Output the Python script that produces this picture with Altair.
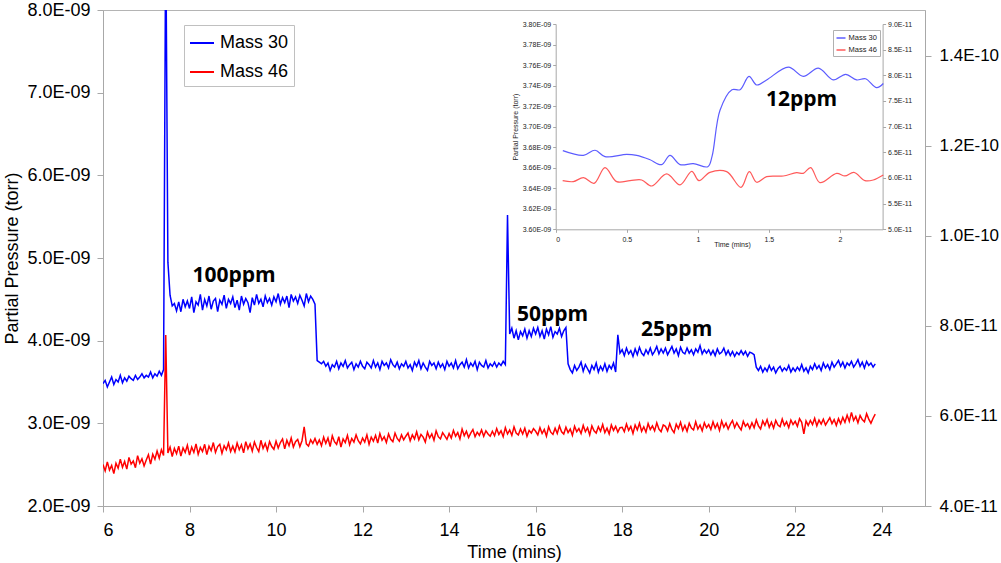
import altair as alt
import pandas as pd

# ---------------- Main chart data ----------------
# Mass 30 partial pressure, units of 1E-09 torr, one value every 0.05 min starting at each minute
m30_06 = [3.48,3.52,3.44,3.50,3.56,3.47,3.53,3.50,3.58,3.49,3.55,3.51,3.57,3.54,3.52,3.58,3.53,3.56,3.60,3.55]
m30_07 = [3.58,3.56,3.62,3.55,3.60,3.57,3.63,3.58,3.65,9.00,4.95,4.55,4.42,4.45,4.36,4.47,4.35,4.50,4.41,4.48]
m30_08 = [4.39,4.53,4.34,4.47,4.43,4.56,4.37,4.50,4.42,4.54,4.38,4.48,4.51,4.35,4.49,4.44,4.55,4.39,4.50,4.45]
m30_09 = [4.53,4.40,4.49,4.37,4.54,4.44,4.51,4.46,4.34,4.52,4.43,4.56,4.45,4.50,4.41,4.54,4.46,4.51,4.43,4.53]
m30_10 = [4.47,4.57,4.44,4.52,4.46,4.54,4.40,4.56,4.48,4.53,4.45,4.55,4.49,4.42,4.57,4.47,4.54,4.50,4.44,3.76]
m30_11 = [3.74,3.72,3.75,3.69,3.73,3.64,3.71,3.68,3.75,3.66,3.73,3.69,3.76,3.67,3.71,3.74,3.65,3.72,3.68,3.75]
m30_12 = [3.69,3.66,3.74,3.71,3.67,3.76,3.68,3.73,3.65,3.75,3.70,3.73,3.67,3.77,3.71,3.68,3.74,3.66,3.72,3.69]
m30_13 = [3.75,3.67,3.71,3.64,3.74,3.69,3.76,3.66,3.73,3.68,3.64,3.75,3.70,3.73,3.66,3.74,3.68,3.72,3.65,3.75]
m30_14 = [3.69,3.73,3.67,3.76,3.66,3.71,3.74,3.68,3.77,3.67,3.73,3.69,3.75,3.65,3.74,3.70,3.68,3.76,3.67,3.72]
m30_15 = [3.69,3.74,3.68,3.73,3.70,3.75,3.71,5.52,4.08,4.15,4.03,4.12,4.01,4.11,4.06,4.14,4.03,4.12,4.05,4.15]
m30_16 = [4.08,4.16,4.05,4.12,4.02,4.14,4.07,4.17,4.04,4.11,4.08,4.15,4.05,4.12,4.16,3.72,3.65,3.61,3.70,3.64]
m30_17 = [3.68,3.74,3.63,3.71,3.66,3.61,3.70,3.65,3.73,3.62,3.69,3.64,3.72,3.63,3.70,3.66,3.73,3.62,4.07,3.85]
m30_18 = [3.89,3.82,3.91,3.84,3.88,3.81,3.90,3.83,3.92,3.85,3.82,3.89,3.84,3.91,3.83,3.87,3.93,3.84,3.90,3.85]
m30_19 = [3.91,3.83,3.88,3.93,3.85,3.90,3.82,3.92,3.86,3.84,3.91,3.85,3.89,3.83,3.90,3.86,3.94,3.84,3.89,3.85]
m30_20 = [3.89,3.83,3.88,3.82,3.90,3.84,3.86,3.91,3.83,3.88,3.82,3.87,3.81,3.86,3.83,3.88,3.83,3.87,3.81,3.86]
m30_21 = [3.85,3.83,3.68,3.64,3.69,3.62,3.67,3.63,3.70,3.64,3.68,3.61,3.66,3.69,3.63,3.67,3.64,3.70,3.62,3.67]
m30_22 = [3.63,3.68,3.64,3.71,3.63,3.67,3.61,3.69,3.65,3.72,3.66,3.70,3.64,3.73,3.67,3.71,3.65,3.74,3.68,3.72]
m30_23 = [3.76,3.69,3.74,3.67,3.73,3.70,3.75,3.68,3.72,3.77,3.69,3.74,3.67,3.75,3.70,3.73,3.68,3.72]

# Mass 46 partial pressure, units of 1E-11 torr (right axis), same sampling
m46_06 = [4.92,4.78,4.98,4.80,4.90,4.72,4.95,4.84,5.04,4.86,4.99,4.82,5.08,4.93,5.00,4.85,5.12,4.95,5.05,4.89]
m46_07 = [5.02,5.14,4.93,5.15,5.04,5.22,5.06,5.25,5.12,7.80,5.18,5.31,5.10,5.28,5.16,5.33,5.11,5.29,5.19,5.35]
m46_08 = [5.13,5.31,5.19,5.38,5.15,5.30,5.21,5.37,5.14,5.33,5.23,5.41,5.19,5.32,5.37,5.17,5.34,5.25,5.40,5.21]
m46_09 = [5.33,5.20,5.40,5.25,5.36,5.18,5.43,5.27,5.38,5.22,5.42,5.30,5.21,5.46,5.28,5.39,5.24,5.43,5.32,5.26]
m46_10 = [5.44,5.29,5.41,5.49,5.27,5.46,5.34,5.51,5.31,5.43,5.48,5.32,5.45,5.76,5.38,5.33,5.47,5.39,5.50,5.37]
m46_11 = [5.47,5.34,5.53,5.39,5.51,5.32,5.56,5.43,5.37,5.54,5.31,5.49,5.41,5.57,5.36,5.50,5.42,5.58,5.45,5.38]
m46_12 = [5.51,5.42,5.58,5.37,5.53,5.44,5.57,5.40,5.61,5.46,5.54,5.41,5.60,5.48,5.43,5.62,5.50,5.44,5.58,5.47]
m46_13 = [5.55,5.62,5.45,5.58,5.49,5.65,5.47,5.59,5.53,5.42,5.64,5.51,5.60,5.46,5.67,5.54,5.49,5.63,5.56,5.48]
m46_14 = [5.61,5.51,5.68,5.55,5.63,5.49,5.71,5.56,5.66,5.52,5.62,5.70,5.54,5.64,5.57,5.69,5.55,5.67,5.60,5.55]
m46_15 = [5.66,5.56,5.72,5.59,5.67,5.54,5.74,5.60,5.69,5.57,5.76,5.62,5.58,5.71,5.60,5.73,5.55,5.68,5.62,5.72]
m46_16 = [5.66,5.58,5.74,5.61,5.70,5.55,5.76,5.64,5.59,5.73,5.61,5.78,5.65,5.60,5.75,5.63,5.71,5.57,5.77,5.65]
m46_17 = [5.72,5.61,5.79,5.65,5.74,5.58,5.78,5.67,5.62,5.76,5.66,5.81,5.63,5.73,5.60,5.80,5.68,5.77,5.64,5.74]
m46_18 = [5.75,5.65,5.82,5.68,5.77,5.61,5.80,5.69,5.84,5.66,5.76,5.64,5.83,5.70,5.78,5.67,5.85,5.71,5.65,5.80]
m46_19 = [5.77,5.67,5.83,5.70,5.63,5.82,5.72,5.86,5.68,5.79,5.66,5.84,5.73,5.69,5.87,5.71,5.80,5.67,5.85,5.74]
m46_20 = [5.81,5.70,5.87,5.73,5.83,5.68,5.89,5.75,5.84,5.71,5.82,5.90,5.74,5.85,5.76,5.69,5.88,5.77,5.83,5.72]
m46_21 = [5.85,5.74,5.91,5.78,5.71,5.89,5.79,5.92,5.75,5.86,5.73,5.90,5.80,5.76,5.93,5.79,5.87,5.74,5.91,5.81]
m46_22 = [5.88,5.77,5.94,5.86,5.60,5.89,5.79,5.90,5.81,5.95,5.78,5.91,5.82,5.93,5.80,5.88,5.96,5.83,5.92,5.79]
m46_23 = [5.94,5.83,5.97,5.86,6.02,5.88,6.08,5.90,5.99,5.85,6.01,5.92,5.87,6.05,5.93,5.84,5.95,6.04]

m30_chunks = [(6, m30_06), (7, m30_07), (8, m30_08), (9, m30_09), (10, m30_10), (11, m30_11),
              (12, m30_12), (13, m30_13), (14, m30_14), (15, m30_15), (16, m30_16), (17, m30_17),
              (18, m30_18), (19, m30_19), (20, m30_20), (21, m30_21), (22, m30_22), (23, m30_23)]
m46_chunks = [(6, m46_06), (7, m46_07), (8, m46_08), (9, m46_09), (10, m46_10), (11, m46_11),
              (12, m46_12), (13, m46_13), (14, m46_14), (15, m46_15), (16, m46_16), (17, m46_17),
              (18, m46_18), (19, m46_19), (20, m46_20), (21, m46_21), (22, m46_22), (23, m46_23)]

# Annotations (main chart)
ann_labels = ["100ppm", "50ppm", "25ppm"]
ann_time = [9.03, 16.39, 19.26]
ann_press = [4.78e-9, 4.31e-9, 4.13e-9]

# ---------------- Inset data ----------------
in30_time = [0.05, 0.195, 0.277, 0.347, 0.50, 0.57, 0.66, 0.745, 0.804, 0.875, 0.968, 1.07, 1.10,
             1.156, 1.24, 1.297, 1.36, 1.414, 1.484, 1.637, 1.742, 1.848, 1.953, 2.04, 2.117, 2.18, 2.258, 2.305]
in30_press = [3.6766, 3.672, 3.677, 3.6708, 3.673, 3.672, 3.668, 3.663, 3.672, 3.663, 3.664, 3.661, 3.671,
              3.716, 3.736, 3.736, 3.749, 3.7406, 3.7455, 3.758, 3.749, 3.757, 3.7455, 3.751, 3.7455, 3.7467, 3.738, 3.742]
in46_time = [0.049, 0.124, 0.195, 0.270, 0.347, 0.429, 0.523, 0.605, 0.675, 0.781, 0.875, 0.957, 1.008, 1.085,
             1.203, 1.304, 1.362, 1.414, 1.484, 1.601, 1.695, 1.742, 1.794, 1.859, 1.977, 2.035, 2.098, 2.176, 2.234, 2.305]
in46_press = [5.948, 5.929, 6.006, 5.896, 6.201, 5.929, 5.948, 5.961, 5.844, 6.078, 5.864, 6.130, 5.948, 6.110,
              6.123, 5.818, 6.123, 5.916, 6.026, 6.039, 6.104, 6.091, 6.201, 5.909, 6.091, 6.039, 6.110, 5.948, 5.961, 6.058]
inset_label = ["12ppm"]
inset_label_time = [1.73]
inset_label_press = [3.726e-9]

series_names = ["Mass 30", "Mass 46"]

# ---------------- Build tables ----------------
def build(chunks, unit, name):
    rows = []
    for minute, vals in chunks:
        for k, v in enumerate(vals):
            rows.append({"t": round(minute + 0.05 * k, 2), "p": v * unit, "series": name})
    return pd.DataFrame(rows)

df30 = build(m30_chunks, 1e-9, "Mass 30")
df46 = build(m46_chunks, 1e-11, "Mass 46")
df_ann = pd.DataFrame({"t": ann_time, "p": ann_press, "label": ann_labels})
di30 = pd.DataFrame({"t": in30_time, "p": [v * 1e-9 for v in in30_press], "series": "Mass 30"})
di46 = pd.DataFrame({"t": in46_time, "p": [v * 1e-11 for v in in46_press], "series": "Mass 46"})
di_ann = pd.DataFrame({"t": inset_label_time, "p": inset_label_press, "label": inset_label})

FONT = "Liberation Sans"
W, H = 822, 496
FS = 18

# ---------------- Main chart ----------------
x_main = alt.X("t:Q",
               scale=alt.Scale(domain=[6, 25], nice=False, zero=False),
               axis=alt.Axis(orient="bottom", values=[6, 8, 10, 12, 14, 16, 18, 20, 22, 24],
                             title="Time (mins)", labelFontSize=FS, titleFontSize=FS,
                             tickSize=6, labelPadding=9, titlePadding=4))

y_left_scale = alt.Scale(domain=[2e-9, 8e-9], nice=False, zero=False)

blue = alt.Chart(df30).mark_line(strokeWidth=1.5, clip=True).encode(
    x=x_main,
    y=alt.Y("p:Q", scale=y_left_scale,
            axis=alt.Axis(orient="left", values=[2e-9, 3e-9, 4e-9, 5e-9, 6e-9, 7e-9, 8e-9],
                          labelExpr="format(datum.value*1e9, '.1f') + 'E-09'",
                          title="Partial Pressure (torr)", labelFontSize=FS, titleFontSize=FS,
                          tickSize=6, labelPadding=7, titlePadding=5)),
    color=alt.Color("series:N",
                    scale=alt.Scale(domain=series_names, range=["#0000ff", "#ff0000"]),
                    legend=alt.Legend(orient="none", legendX=81, legendY=15, title=None,
                                      strokeColor="#c0c0c0", fillColor="#ffffff", padding=5,
                                      labelFont=FONT, labelFontSize=FS, labelColor="#000000",
                                      symbolType="stroke", symbolSize=576, symbolStrokeWidth=2,
                                      labelOffset=5, rowPadding=7, cornerRadius=0)),
)

red = alt.Chart(df46).mark_line(strokeWidth=1.5, clip=True).encode(
    x=x_main,
    y=alt.Y("p:Q", scale=alt.Scale(domain=[4e-11, 1.502e-10], nice=False, zero=False),
            axis=alt.Axis(orient="right", values=[4e-11, 6e-11, 8e-11, 1e-10, 1.2e-10, 1.4e-10],
                          labelExpr="datum.value < 9.9e-11 ? format(datum.value*1e11, '.1f') + 'E-11' : format(datum.value*1e10, '.1f') + 'E-10'",
                          title=None, labelFontSize=17, tickSize=6, labelPadding=8)),
    color=alt.Color("series:N"),
)

ann = alt.Chart(df_ann).mark_text(font="Open Sans", fontWeight="bold", fontSize=21,
                                  color="#000000", align="center", baseline="middle").encode(
    x=x_main,
    y=alt.Y("p:Q", scale=y_left_scale, axis=None),
    text="label:N",
)

main = alt.layer(blue, red, ann).resolve_scale(y="independent")

# ---------------- Inset ----------------
IX0, IX1 = 452.7, 779.6
IY0, IY1 = 219.3, 14.0

x_in = alt.X("t:Q",
             scale=alt.Scale(domain=[0, 2.3], range=[IX0, IX1], nice=False, zero=False),
             axis=alt.Axis(orient="bottom", offset=-(H - IY0), values=[0, 0.5, 1, 1.5, 2], format="~g",
                           title="Time (mins)", labelFontSize=7, titleFontSize=7, tickSize=3,
                           labelPadding=3, labelColor="#222222", titleColor="#222222",
                           titleX=629, titleY=11, titleBaseline="top",
                           domainColor="#a8a8a8", tickColor="#a8a8a8"))

y_in_scale = alt.Scale(domain=[3.6e-9, 3.8e-9], range=[IY0, IY1], nice=False, zero=False)

iblue = alt.Chart(di30).mark_line(strokeWidth=1.2, interpolate="catmull-rom").encode(
    x=x_in,
    y=alt.Y("p:Q", scale=y_in_scale,
            axis=alt.Axis(orient="left", offset=-IX0,
                          values=[3.60e-9, 3.62e-9, 3.64e-9, 3.66e-9, 3.68e-9, 3.70e-9,
                                  3.72e-9, 3.74e-9, 3.76e-9, 3.78e-9, 3.80e-9],
                          labelExpr="format(datum.value*1e9, '.2f') + 'E-09'",
                          title="Partial Pressure (torr)", labelFontSize=7, titleFontSize=7,
                          tickSize=3, labelPadding=2, titlePadding=4,
                          labelColor="#222222", titleColor="#222222",
                          domainColor="#a8a8a8", tickColor="#a8a8a8")),
    color=alt.Color("series:N",
                    scale=alt.Scale(domain=series_names, range=["#5c5cff", "#ff5a5a"]),
                    legend=alt.Legend(orient="none", legendX=730, legendY=20, title=None,
                                      strokeColor="#b0b0b0", fillColor="#ffffff", padding=2.5,
                                      labelFont=FONT, labelFontSize=7.5, labelColor="#222222",
                                      symbolType="stroke", symbolSize=81, symbolStrokeWidth=1.5,
                                      labelOffset=2, rowPadding=3, cornerRadius=0)),
)

ired = alt.Chart(di46).mark_line(strokeWidth=1.2, interpolate="catmull-rom").encode(
    x=x_in,
    y=alt.Y("p:Q", scale=alt.Scale(domain=[5e-11, 9e-11], range=[IY0, IY1], nice=False, zero=False),
            axis=alt.Axis(orient="right", offset=-(W - IX1),
                          values=[5e-11, 5.5e-11, 6e-11, 6.5e-11, 7e-11, 7.5e-11, 8e-11, 8.5e-11, 9e-11],
                          labelExpr="format(datum.value*1e11, '.1f') + 'E-11'",
                          title=None, labelFontSize=7, tickSize=3, labelPadding=2,
                          labelColor="#222222", domainColor="#a8a8a8", tickColor="#a8a8a8")),
    color=alt.Color("series:N"),
)

iann = alt.Chart(di_ann).mark_text(font="Open Sans", fontWeight="bold", fontSize=21,
                                   color="#000000", align="center", baseline="middle").encode(
    x=x_in,
    y=alt.Y("p:Q", scale=y_in_scale, axis=None),
    text="label:N",
)

inset = alt.layer(iblue, ired, iann).resolve_scale(y="independent")

chart = alt.layer(main, inset).resolve_scale(
    x="independent", y="independent", color="independent"
).properties(
    width=W, height=H,
    padding={"left": 103, "top": 10, "right": 76, "bottom": 57},
    autosize=alt.AutoSizeParams(type="none"),
).configure_view(
    stroke="#b4b4b4", strokeWidth=1
).configure_axis(
    grid=False, domainColor="#a8a8a8", tickColor="#a8a8a8",
    labelFont=FONT, titleFont=FONT, labelColor="#000000", titleColor="#000000",
    titleFontWeight="normal"
)

chart.save("out.html", embed_options={"renderer": "svg", "actions": False})
